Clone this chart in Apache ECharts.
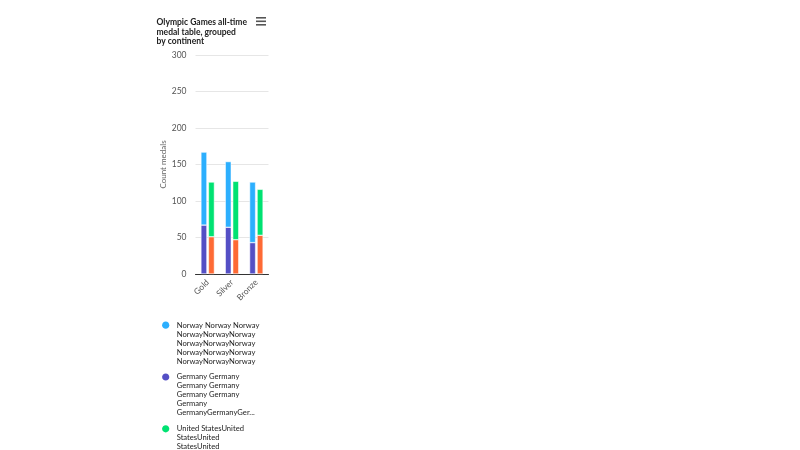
<!DOCTYPE html>
<html>
<head>
<meta charset="utf-8">
<script src="https://cdn.jsdelivr.net/npm/echarts@6/dist/echarts.min.js"></script>
<style>html,body{margin:0;padding:0;background:#fff}#c{width:800px;height:450px}</style>
</head>
<body>
<div id="c"></div>
<script>
const categories = ['Gold', 'Silver', 'Bronze'];
const norway = [100, 90, 83];
const germany = [67, 64, 43];
const unitedStates = [75, 80, 63];
const canada = [51, 47, 53];
const yTicks = { min: 0, max: 300, interval: 50 };
const titleText = 'Olympic Games all-time\nmedal table, grouped\nby continent';
const yAxisTitle = 'Count medals';
const norwayLabel = 'Norway Norway Norway\nNorwayNorwayNorway\nNorwayNorwayNorway\nNorwayNorwayNorway\nNorwayNorwayNorway';
const germanyLabel = 'Germany Germany\nGermany Germany\nGermany Germany\nGermany\nGermanyGermanyGer...';
const usLabel = 'United StatesUnited\nStatesUnited\nStatesUnited\nStatesUnited\nStatesUnited Sta...';
const canadaLabel = 'Canada Canada\nCanada Canada\nCanada Canada\nCanada\nCanadaCanadaCan...';

const FONT = 'Lato';
const L = 9;
const LINES = 5;
const ITEM_H = L * LINES;
// circle (bezier approximation, r=3.6, centre 4,4.5) at the top of a tall icon box
const topCircleIcon = 'path://M0,0L0,0 M10,' + ITEM_H + 'L10,' + ITEM_H +
  ' M4,0.9C5.988,0.9 7.6,2.512 7.6,4.5C7.6,6.488 5.988,8.1 4,8.1C2.012,8.1 0.4,6.488 0.4,4.5C0.4,2.512 2.012,0.9 4,0.9Z';

const chart = echarts.init(document.getElementById('c'), null, { renderer: 'canvas' });
const bar = (name, data, stack, color) => ({
  name: name, type: 'bar', stack: stack, data: data,
  barWidth: 6, barGap: '25%',
  itemStyle: { color: color, borderColor: '#fff', borderWidth: 0.5 },
  emphasis: { disabled: true }
});
chart.setOption({
  animation: false,
  textStyle: { fontFamily: FONT },
  title: {
    text: titleText, left: 151.5, top: 12.5,
    textStyle: { fontSize: 8.5, fontWeight: 'bold', color: '#222', lineHeight: 9.7, fontFamily: FONT }
  },
  grid: { left: 195.5, right: 531.5, top: 55, bottom: 176, containLabel: false },
  xAxis: {
    type: 'category', data: categories,
    axisLine: { lineStyle: { color: '#333', width: 1 } },
    axisTick: { show: false },
    axisLabel: { rotate: 45, fontSize: 8.3, color: '#555', margin: 7, fontFamily: FONT }
  },
  yAxis: {
    type: 'value', min: yTicks.min, max: yTicks.max, interval: yTicks.interval,
    name: yAxisTitle, nameLocation: 'middle', nameGap: 28,
    nameTextStyle: { fontSize: 8, color: '#666', fontFamily: FONT },
    axisLine: { show: false }, axisTick: { show: false },
    axisLabel: { fontSize: 8.5, color: '#555', margin: 9, fontFamily: FONT },
    splitLine: { lineStyle: { color: '#e6e6e6', width: 1 } }
  },
  legend: {
    orient: 'vertical', left: 156.7, top: 315.7, height: 600,
    icon: topCircleIcon, itemWidth: 10, itemHeight: ITEM_H, itemGap: 6.8,
    itemStyle: { borderWidth: 0 },
    textStyle: { fontSize: 7.6, color: '#222', lineHeight: L, fontFamily: FONT },
    data: [norwayLabel, germanyLabel, usLabel, canadaLabel],
    selectedMode: false
  },
  graphic: [
    { type: 'rect', left: 256, top: 17, shape: { width: 10, height: 1.6 }, style: { fill: '#555' } },
    { type: 'rect', left: 256, top: 20.5, shape: { width: 10, height: 1.6 }, style: { fill: '#555' } },
    { type: 'rect', left: 256, top: 24, shape: { width: 10, height: 1.6 }, style: { fill: '#555' } }
  ],
  series: [
    bar(germanyLabel, germany, 'Europe', '#544fc5'),
    bar(norwayLabel, norway, 'Europe', '#2caffe'),
    bar(canadaLabel, canada, 'North America', '#fe6a35'),
    bar(usLabel, unitedStates, 'North America', '#00e272')
  ]
});
</script>
</body>
</html>
